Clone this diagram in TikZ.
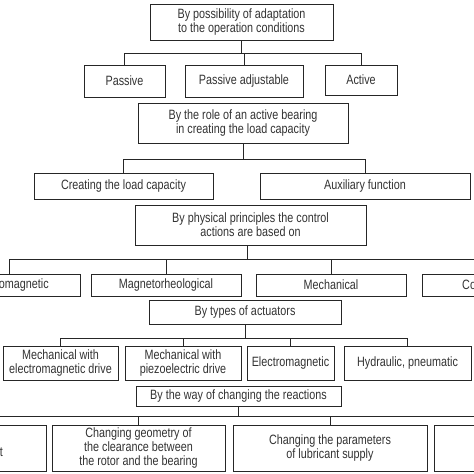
\documentclass[tikz,border=0pt]{standalone}
\usepackage{fontspec}
\setmainfont{Liberation Sans}[FakeStretch=0.8]
\begin{document}
\begin{tikzpicture}[x=1pt,y=-1pt,
  box/.style={draw=black!85, line width=0.9pt, inner sep=0pt, align=center, text=black!80,
    font=\fontsize{13.5}{14}\selectfont},
  frag/.style={inner sep=0pt, text=black!80, font=\fontsize{13.5}{14}\selectfont},
  conn/.style={draw=black!85, line width=0.9pt}]
\useasboundingbox (0,0) rectangle (474,474);
\clip (0,0) rectangle (474,474);
\fill[white] (0,0) rectangle (474,474);
% level 1
\node[box, minimum width=183pt, minimum height=36pt] (b1) at (241.5,22) {By possibility of adaptation\\to the operation conditions};
\node[box, minimum width=81pt, minimum height=32pt] (passive) at (124.5,81) {Passive};
\node[box, minimum width=118pt, minimum height=32pt] (padj) at (244,81) {Passive adjustable};
\node[box, minimum width=72pt, minimum height=30pt] (active) at (361,80) {Active};
\draw[conn] (b1.south) -- ++(0,13) coordinate (bus1);
\draw[conn] (passive.north |- bus1) -- (active.north |- bus1);
\draw[conn] (passive.north) -- (passive.north |- bus1);
\draw[conn] (padj.north) -- (padj.north |- bus1);
\draw[conn] (active.north) -- (active.north |- bus1);
% level 2
\node[box, minimum width=210pt, minimum height=40pt] (role) at (243,123) {By the role of an active bearing\\in creating the load capacity};
\node[box, minimum width=179pt, minimum height=26pt] (create) at (123.5,186) {Creating the load capacity};
\node[box, minimum width=210pt, minimum height=26pt] (aux) at (365,186) {Auxiliary function};
\draw[conn] (role.south) -- ++(0,16) coordinate (bus2);
\draw[conn] (create.north |- bus2) -- (aux.north |- bus2);
\draw[conn] (create.north) -- (create.north |- bus2);
\draw[conn] (aux.north) -- (aux.north |- bus2);
% level 3
\node[box, minimum width=231pt, minimum height=40pt] (phys) at (250.5,225) {By physical principles the control\\actions are based on};
\node[box, minimum width=142pt, minimum height=22pt] (elm) at (9,285) {};
\node[frag, anchor=east] (elmt) at (49,285) {omagnetic};
\node[box, minimum width=150pt, minimum height=22pt] (magneto) at (166,285) {Magnetorheological};
\node[box, minimum width=150pt, minimum height=22pt] (mech) at (331,285) {Mechanical};
\node[box, minimum width=138pt, minimum height=22pt] (co) at (491,285) {};
\node[frag, anchor=west] (cot) at (462,285) {Co};
\draw[conn] (247,245) -- (247,259) coordinate (bus3);
\draw[conn] (elm.north |- bus3) -- (co.north |- bus3);
\draw[conn] (elm.north) -- (elm.north |- bus3);
\draw[conn] (magneto.north) -- (magneto.north |- bus3);
\draw[conn] (mech.north) -- (mech.north |- bus3);
\draw[conn] (co.north) -- (co.north |- bus3);
% level 4
\node[box, minimum width=192pt, minimum height=24pt] (types) at (245,312) {By types of actuators};
\node[box, minimum width=115pt, minimum height=34pt] (mechem) at (60.5,363) {Mechanical with\\electromagnetic drive};
\node[box, minimum width=116pt, minimum height=34pt] (piezo) at (183,363) {Mechanical with\\piezoelectric drive};
\node[box, minimum width=87pt, minimum height=34pt] (emag) at (290.5,363) {Electromagnetic};
\node[box, minimum width=127pt, minimum height=34pt] (hyd) at (407.5,363) {Hydraulic, pneumatic};
\draw[conn] (types.south) -- ++(0,14) coordinate (bus4);
\draw[conn] (mechem.north |- bus4) -- (hyd.north |- bus4);
\draw[conn] (mechem.north) -- (mechem.north |- bus4);
\draw[conn] (piezo.north) -- (piezo.north |- bus4);
\draw[conn] (emag.north) -- (emag.north |- bus4);
\draw[conn] (hyd.north) -- (hyd.north |- bus4);
% level 5
\node[box, minimum width=205pt, minimum height=20pt] (way) at (238.5,396) {By the way of changing the reactions};
\node[box, minimum width=126pt, minimum height=46pt] (left6) at (-17,448) {};
\node[frag, anchor=east] (left6t) at (3,452) {t};
\node[box, minimum width=173pt, minimum height=46pt] (geom) at (138.5,448) {Changing geometry of\\the clearance between\\the rotor and the bearing};
\node[box, minimum width=194pt, minimum height=46pt] (lub) at (330,448) {Changing the parameters\\of lubricant supply};
\node[box, minimum width=126pt, minimum height=46pt] (right6) at (497,448) {};
\draw[conn] (way.south) -- ++(0,10) coordinate (bus5);
\draw[conn] (left6.north |- bus5) -- (right6.north |- bus5);
\draw[conn] (left6.north) -- (left6.north |- bus5);
\draw[conn] (geom.north) -- (geom.north |- bus5);
\draw[conn] (lub.north) -- (lub.north |- bus5);
\draw[conn] (right6.north) -- (right6.north |- bus5);
\end{tikzpicture}
\end{document}
